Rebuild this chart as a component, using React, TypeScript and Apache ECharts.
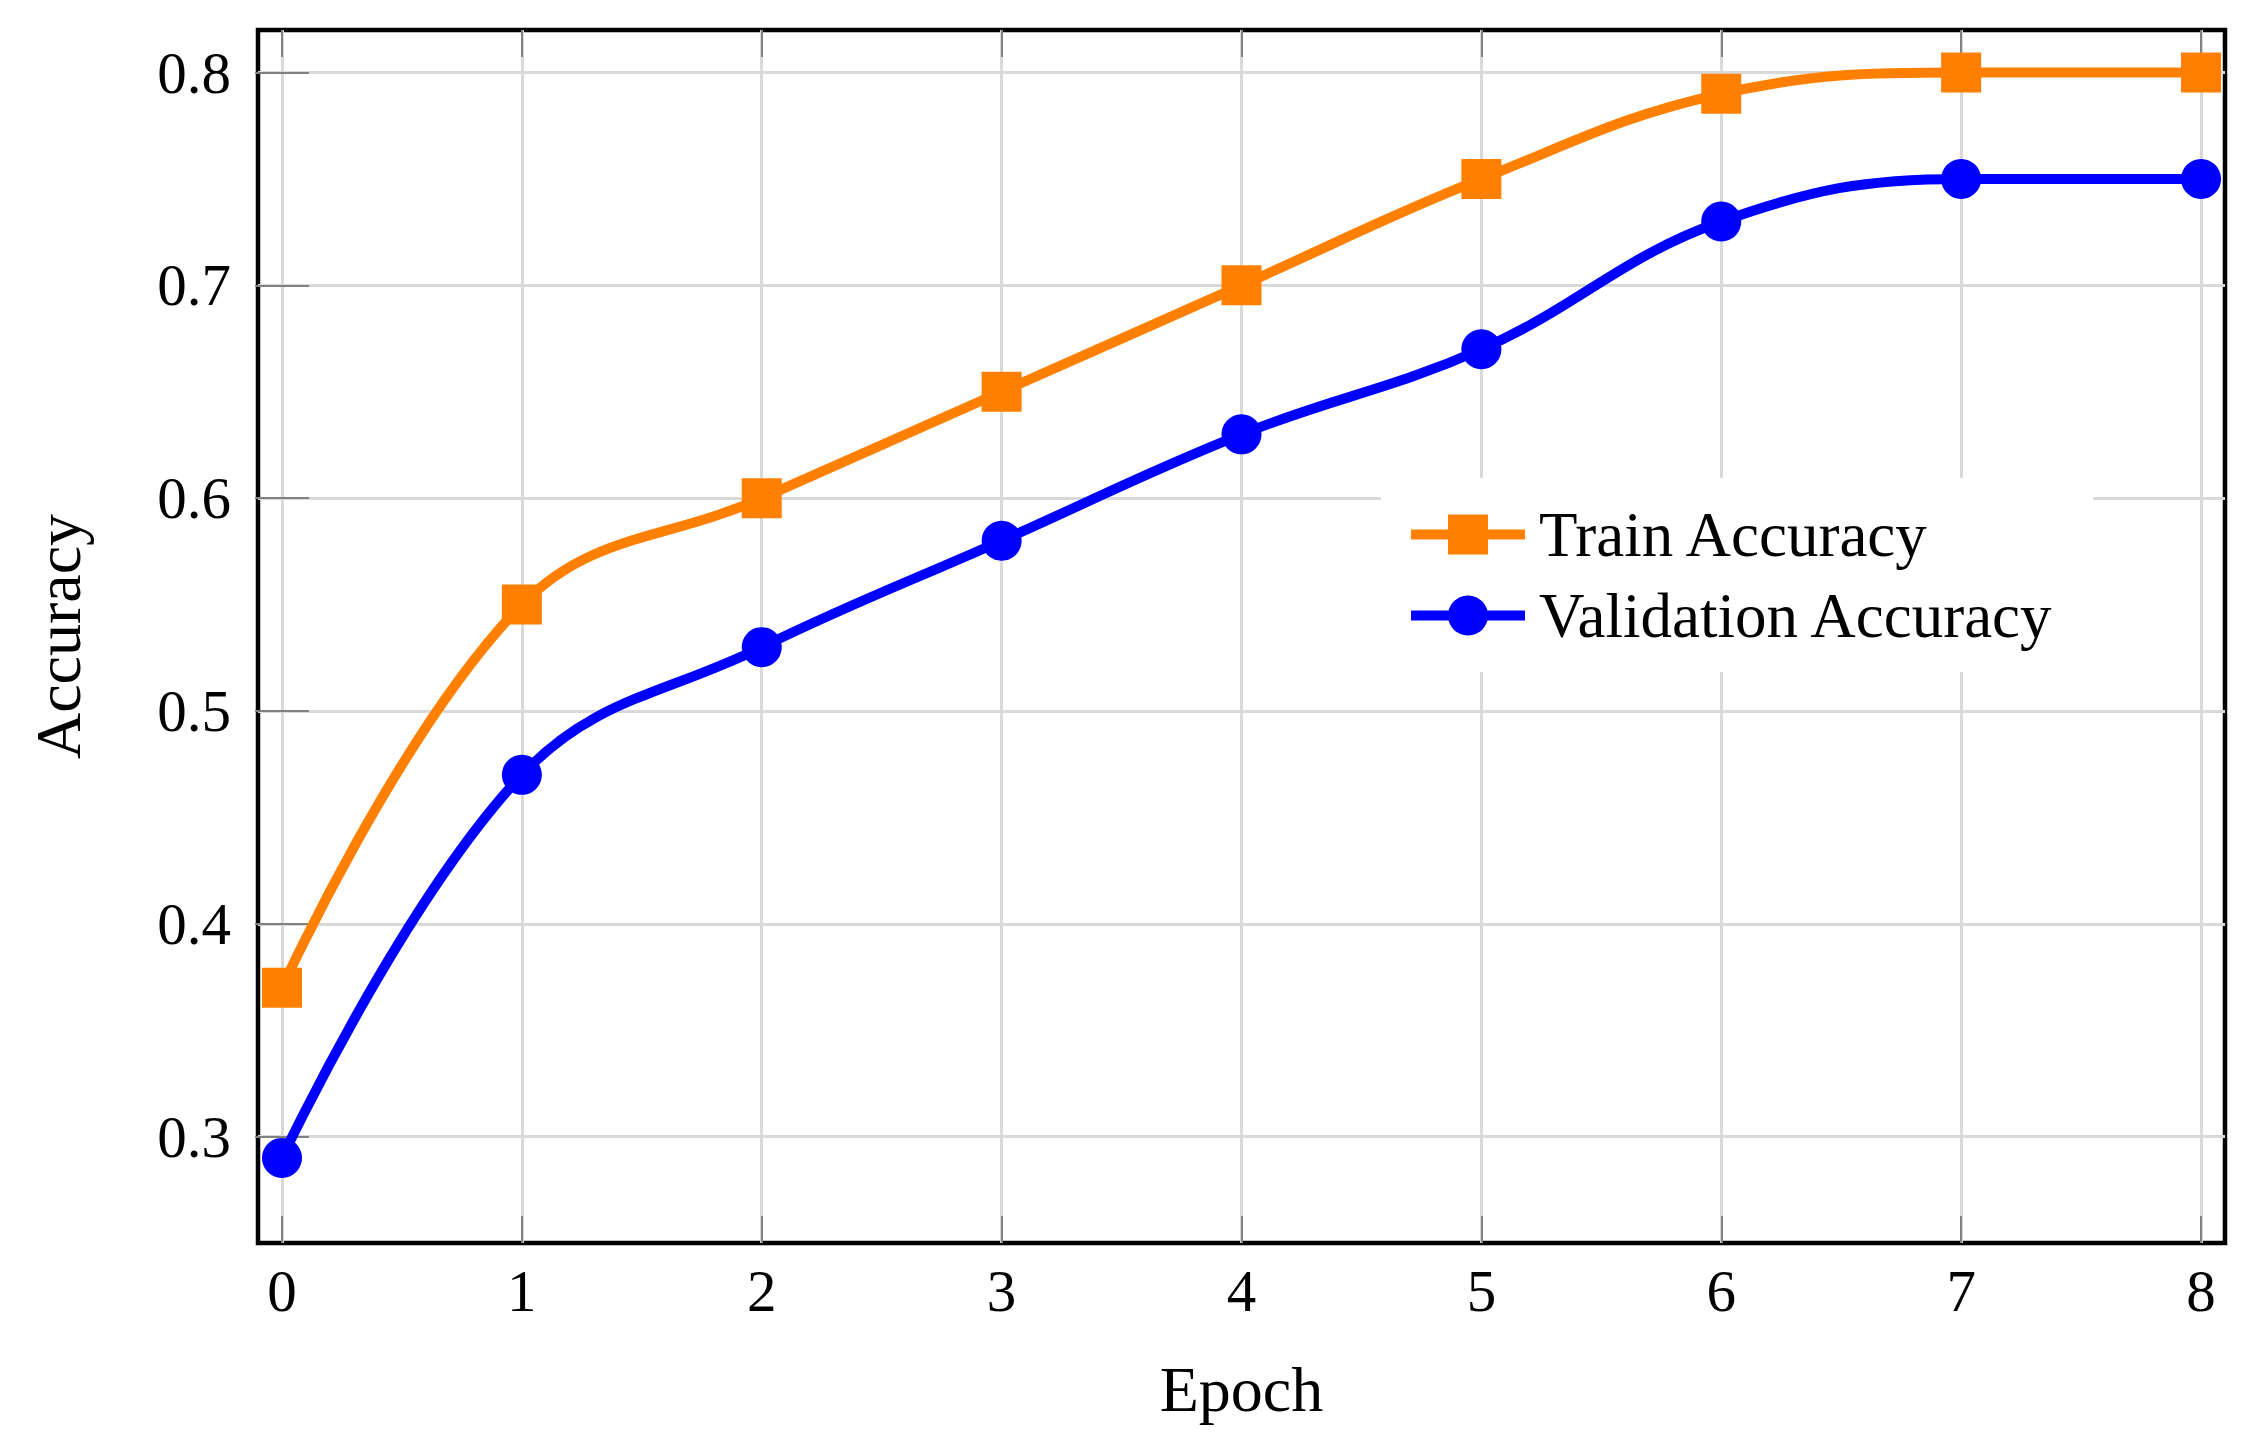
import React, { useEffect, useRef } from "react";
import * as echarts from "echarts";

const epochs = [0, 1, 2, 3, 4, 5, 6, 7, 8];
const trainAcc = [0.37, 0.55, 0.6, 0.65, 0.7, 0.75, 0.79, 0.8, 0.8];
const valAcc = [0.29, 0.47, 0.53, 0.58, 0.63, 0.67, 0.73, 0.75, 0.75];
const xTicks = [0, 1, 2, 3, 4, 5, 6, 7, 8];
const yTicks = [0.3, 0.4, 0.5, 0.6, 0.7, 0.8];
const seriesNames = ["Train Accuracy", "Validation Accuracy"];

const FONT = "'Liberation Serif', 'DejaVu Serif', serif";
const TICK = { show: true, inside: true, length: 27, lineStyle: { color: "#808080", width: 2 } };

export default function App() {
  const ref = useRef<HTMLDivElement>(null);
  useEffect(() => {
    if (!ref.current) return;
    const chart = echarts.init(ref.current, undefined, { renderer: "svg" });
    const option: any = {
      animation: false,
      backgroundColor: "#fff",
      textStyle: { fontFamily: FONT },
      grid: {
        left: 258,
        right: 33,
        top: 30,
        bottom: 212,
        show: true,
        borderColor: "#000",
        borderWidth: 4.5,
        backgroundColor: "transparent",
      },
      legend: {
        orient: "vertical",
        left: 1381,
        top: 478,
        padding: [25, 38, 25, 25],
        backgroundColor: "#fff",
        itemWidth: 114,
        itemHeight: 50,
        itemGap: 18,
        lineStyle: { width: 10 },
        textStyle: { fontSize: 63, lineHeight: 60, color: "#000", fontFamily: FONT, padding: [0, 0, 0, 9] },
        data: seriesNames,
      },
      xAxis: [
        {
          type: "value",
          position: "bottom",
          min: -0.1,
          max: 8.1,
          axisLine: { show: false },
          axisTick: { ...TICK, customValues: xTicks },
          axisLabel: { customValues: xTicks, fontSize: 59, color: "#000", margin: 18, fontFamily: FONT },
          splitLine: { show: true, lineStyle: { color: "#d9d9d9", width: 3 } },
          name: "Epoch",
          nameLocation: "middle",
          nameGap: 114,
          nameTextStyle: { fontSize: 64, color: "#000", fontFamily: FONT },
        },
        {
          type: "value",
          position: "top",
          min: -0.1,
          max: 8.1,
          axisLine: { show: false },
          axisTick: { ...TICK, customValues: xTicks },
          axisLabel: { show: false, customValues: xTicks },
          splitLine: { show: false },
        },
      ],
      yAxis: [
        {
          type: "value",
          position: "left",
          min: 0.25,
          max: 0.82,
          axisLine: { show: false },
          axisTick: { ...TICK, customValues: yTicks },
          axisLabel: {
            customValues: yTicks,
            fontSize: 59,
            color: "#000",
            margin: 27,
            fontFamily: FONT,
            formatter: (v: number) => v.toFixed(1),
          },
          splitLine: { show: true, lineStyle: { color: "#d9d9d9", width: 3 } },
          name: "Accuracy",
          nameLocation: "middle",
          nameRotate: 90,
          nameGap: 168,
          nameTextStyle: { fontSize: 64, color: "#000", fontFamily: FONT },
        },
        {
          type: "value",
          position: "right",
          min: 0.25,
          max: 0.82,
          axisLine: { show: false },
          axisTick: { ...TICK, customValues: yTicks },
          axisLabel: { show: false, customValues: yTicks },
          splitLine: { show: false },
        },
      ],
      series: [
        {
          name: seriesNames[0],
          type: "line",
          smooth: 0.4,
          data: epochs.map((e, i) => [e, trainAcc[i]]),
          symbol: "rect",
          symbolSize: 40,
          lineStyle: { color: "#ff8000", width: 10 },
          itemStyle: { color: "#ff8000" },
          z: 3,
        },
        {
          name: seriesNames[1],
          type: "line",
          smooth: 0.4,
          data: epochs.map((e, i) => [e, valAcc[i]]),
          symbol: "circle",
          symbolSize: 40,
          lineStyle: { color: "#0000ff", width: 10 },
          itemStyle: { color: "#0000ff" },
          z: 3,
        },
      ],
    };
    chart.setOption(option);
    return () => chart.dispose();
  }, []);
  return (
    <div
      ref={ref}
      style={{ position: "fixed", left: 0, top: 0, width: 2258, height: 1455, background: "#fff" }}
    />
  );
}
